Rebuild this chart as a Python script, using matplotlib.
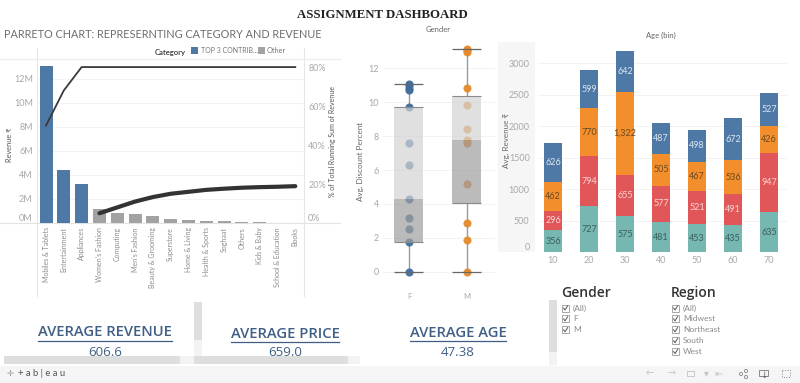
import matplotlib
matplotlib.use('Agg')
from matplotlib import pyplot as plt
from matplotlib.patches import Rectangle, Circle

W, H = 800, 383
plt.rcParams['font.family'] = ['Lato', 'DejaVu Sans']

# pareto data
categories = ['Mobiles & Tablets', 'Entertainment', 'Appliances', "Women's Fashion", 'Computing',
              "Men's Fashion", 'Beauty & Grooming', 'Superstore', 'Home & Living', 'Health & Sports',
              'Soghaat', 'Others', 'Kids & Baby', 'School & Education', 'Books']
revenue = [13.08, 4.4, 3.25, 1.2, 0.8, 0.75, 0.55, 0.37, 0.28, 0.2, 0.15, 0.1, 0.07, 0.01, 0.005]
top3_running = [50, 68, 80, 80, 80, 80, 80, 80, 80, 80, 80, 80, 80, 80, 80]
other_running = [5, 8, 11, 13.3, 15, 16, 17, 17.6, 18.1, 18.4, 18.6, 18.9]
rev_ticks = [0, 2, 4, 6, 8, 10, 12]
pct_ticks = [0, 20, 40, 60, 80]

# box plot data
genders = ['F', 'M']
discount_f = [0, 1.75, 2.5, 3.2, 4.3, 6.3, 7.6, 9.7, 10.7, 10.85, 11.0, 11.1]
discount_m = [0, 1.85, 2.85, 5.2, 7.6, 7.8, 8.4, 9.85, 10.85, 12.95, 13.1, 13.15]
box_q1 = [1.75, 4.05]
box_med = [4.3, 7.8]
box_q3 = [9.7, 10.35]
box_low = [0, 0]
box_high = [11.1, 13.15]
disc_ticks = [0, 2, 4, 6, 8, 10, 12]

# stacked bar data
age_bins = ['10', '20', '30', '40', '50', '60', '70']
age_teal = [356, 727, 575, 481, 453, 435, 635]
age_red = [296, 794, 655, 577, 521, 491, 947]
age_orange = [462, 770, 1322, 505, 467, 536, 426]
age_blue = [626, 599, 642, 487, 498, 672, 527]
age_ticks = [0, 500, 1000, 1500, 2000, 2500, 3000]

BLUE = '#4e79a7'
ORANGE = '#f28e2b'
RED = '#e15759'
TEAL = '#76b7b2'
TICK = '#a8a8a8'
GRID = '#f1f1f1'
KPI = '#3f5f85'

fig = plt.figure(figsize=(W / 100, H / 100), dpi=100, facecolor='white')


def px_axes(x0, y0, x1, y1, **kw):
    # pixel box, y measured from the top
    return fig.add_axes([x0 / W, 1 - y1 / H, (x1 - x0) / W, (y1 - y0) / H], **kw)


def clean(ax):
    ax.patch.set_alpha(0)
    for s in ax.spines.values():
        s.set_visible(False)
    ax.tick_params(length=0, labelcolor=TICK, labelsize=6.5, pad=3)


# background layer, pixel coordinates
bg = px_axes(0, 0, W, H, zorder=0)
bg.set_xlim(0, W)
bg.set_ylim(H, 0)
bg.axis('off')
bg.add_patch(Rectangle((498, 42), 37, 210, color='#f6f6f6', lw=0))
bg.plot([37, 37], [48, 296], color='#e6e6e6', lw=0.8)
bg.plot([304, 304], [48, 296], color='#e6e6e6', lw=0.8)
bg.plot([0, 340], [58.5, 58.5], color='#ececec', lw=0.8)
bg.plot([0, 340], [223, 223], color='#e2e2e2', lw=0.8)

# pareto
ax1 = px_axes(37, 58.5, 304, 223, zorder=2)
clean(ax1)
xs = list(range(len(categories)))
bar_cols = [BLUE] * 3 + ['#a2a2a2'] * (len(categories) - 3)
ax1.bar(xs, revenue, width=0.73, color=bar_cols, zorder=2)
ax1.set_xlim(-0.506, 14.49)
ax1.set_ylim(0, 13.7)
ax1.set_yticks(rev_ticks)
ax1.set_yticklabels([f'{v}M' for v in rev_ticks])
ax1.get_yticklabels()[0].set_va('bottom')
ax1.set_xticks(xs)
ax1.set_xticklabels(categories, rotation=90, fontsize=5.0, color='#8c8c8c')
ax1.grid(axis='y', color=GRID, lw=0.6, zorder=0)
ax1.set_axisbelow(True)

ax1b = ax1.twinx()
clean(ax1b)
ax1b.set_ylim(0, 84.4)
ax1b.set_yticks(pct_ticks)
ax1b.set_yticklabels([f'{v}%' for v in pct_ticks])
ax1b.get_yticklabels()[0].set_va('bottom')
ax1b.plot(xs, top3_running, color='#3a3a3a', lw=1.3, zorder=3)
ax1b.plot(xs[3:], other_running, color='#333333', lw=3.0, solid_capstyle='round', zorder=3)

# box plot
ax2 = px_axes(383, 42, 495, 276, zorder=2)
clean(ax2)
ax2.set_xlim(-0.448, 1.483)
ax2.set_ylim(-0.25, 13.55)
ax2.set_yticks(disc_ticks)
ax2.set_xticks([0, 1])
ax2.set_xticklabels(genders, fontsize=5.5)
ax2.tick_params(axis='x', pad=12)
ax2.grid(axis='y', color=GRID, lw=0.6, zorder=0)
ax2.set_axisbelow(True)
for i, (vals, col) in enumerate(zip([discount_f, discount_m], ['#3f6d9c', '#e58a2c'])):
    ax2.vlines(i, box_low[i], box_q1[i], color='#9a9a9a', lw=1.0, zorder=1)
    ax2.vlines(i, box_q3[i], box_high[i], color='#9a9a9a', lw=1.0, zorder=1)
    ax2.scatter([i] * len(vals), vals, s=34, color=col, alpha=0.95, lw=0, zorder=2)
    ax2.bar(i, box_med[i] - box_q1[i], bottom=box_q1[i], width=0.5, color='#9e9e9e', alpha=0.7, zorder=3)
    ax2.bar(i, box_q3[i] - box_med[i], bottom=box_med[i], width=0.5, color='#d3d3d3', alpha=0.7, zorder=3)
    ax2.hlines([box_low[i], box_high[i]], i - 0.25, i + 0.25, color='#666666', lw=0.9, zorder=4)
    ax2.hlines(box_q3[i], i - 0.25, i + 0.25, color='#8a8a8a', lw=0.8, zorder=4)
    ax2.hlines(box_q1[i], i - 0.25, i + 0.25, color='#8a8a8a', lw=0.8, zorder=4)

# stacked bars
ax3 = px_axes(538, 42, 787, 252.3, zorder=2)
clean(ax3)
ax3.set_xlim(-0.417, 6.5)
ax3.set_ylim(0, 3338)
ax3.set_yticks(age_ticks)
ax3.get_yticklabels()[0].set_va('bottom')
ax3.set_xticks(range(len(age_bins)))
ax3.set_xticklabels(age_bins)
ax3.tick_params(axis='y', pad=6)
ax3.grid(axis='y', color=GRID, lw=0.6, zorder=0)
ax3.set_axisbelow(True)
bottom = [0] * len(age_bins)
for vals, col, txt in [(age_teal, TEAL, '#3c5f5c'), (age_red, RED, '#f8d5d5'),
                       (age_orange, ORANGE, '#6b4a20'), (age_blue, BLUE, '#dce6f0')]:
    ax3.bar(range(len(age_bins)), vals, bottom=bottom, width=0.5, color=col, zorder=2)
    for i, v in enumerate(vals):
        ax3.text(i, bottom[i] + v / 2, f'{v:,}', ha='center', va='center', fontsize=6.5, color=txt, zorder=3)
    bottom = [b + v for b, v in zip(bottom, vals)]

# top layer, pixel coordinates
top = px_axes(0, 0, W, H, zorder=5)
top.set_xlim(0, W)
top.set_ylim(H, 0)
top.axis('off')
top.patch.set_alpha(0)

top.text(382, 15, 'ASSIGNMENT DASHBOARD', family='Liberation Serif', weight='bold', fontsize=9.2,
         ha='center', va='center', color='#222222')
top.text(4, 34.5, 'PARRETO CHART: REPRESERNTING CATEGORY AND REVENUE', fontsize=7.8, ha='left',
         va='center', color='#6e6e6e')

# legend
top.text(170, 52.5, 'Category', fontsize=5.5, weight='bold', ha='center', va='center', color='#444444')
top.add_patch(Rectangle((191, 47), 7, 7, color=BLUE, lw=0))
top.text(201, 50.5, 'TOP 3 CONTRIB...', fontsize=5.0, va='center', color='#777777')
top.add_patch(Rectangle((258, 47), 7, 7, color='#a2a2a2', lw=0))
top.text(267, 50.5, 'Other', fontsize=5.3, va='center', color='#777777')

# axis titles
top.text(9, 145, 'Revenue ₹', fontsize=5.3, rotation=90, ha='center', va='center', color='#555555')
top.text(333, 141, '% of Total Running Sum of Revenue', fontsize=5.0, rotation=90, ha='center', va='center',
         color='#555555')
top.text(360, 161, 'Avg. Discount Percent', fontsize=5.8, rotation=90, ha='center', va='center', color='#666666')
top.text(438, 30, 'Gender', fontsize=5.5, ha='center', va='center', color='#666666')
top.text(507, 141, 'Avg. Revenue ₹', fontsize=5.8, rotation=90, ha='center', va='center', color='#666666')
top.text(661, 35.5, 'Age (bin)', fontsize=5.5, ha='center', va='center', color='#666666')

# KPI titles with underline
rend = fig.canvas.get_renderer()
for label, value, cx, y_t, y_v in [('AVERAGE REVENUE', '606.6', 105, 332.5, 352.5),
                                   ('AVERAGE PRICE', '659.0', 285, 334, 352),
                                   ('AVERAGE AGE', '47.38', 458, 333, 352.5)]:
    t = top.text(cx, y_t, label, family='Open Sans', fontsize=10.6, weight='semibold', ha='center', va='center', color=KPI)
    bb = t.get_window_extent(rend)
    top.plot([bb.x0, bb.x1], [y_t + 8, y_t + 8], color=KPI, lw=0.9)
    top.text(cx, y_v, value, family='Open Sans', fontsize=9.6, ha='center', va='center', color=KPI)

# scroll bars
for x, y, w, h, col in [(4, 356, 176, 8, '#dedede'), (180, 356, 14, 8, '#f3f3f3'), (194, 356, 154, 8, '#dedede'),
                        (348, 356, 12, 8, '#f3f3f3'), (194, 302, 8, 38, '#dedede'), (194, 340, 8, 16, '#f3f3f3'),
                        (549, 300, 8, 52, '#dedede'), (549, 352, 8, 13, '#f3f3f3')]:
    top.add_patch(Rectangle((x, y), w, h, color=col, lw=0, zorder=3))

# filters
filter_gender = ['(All)', 'F', 'M']
filter_region = ['(All)', 'Midwest', 'Northeast', 'South', 'West']
for title, items, x, xt in [('Gender', filter_gender, 562, 561), ('Region', filter_region, 672, 671)]:
    top.text(xt, 293, title, family='Open Sans', fontsize=10, weight='semibold', ha='left', va='center', color='#333333')
    for i, item in enumerate(items):
        yc = 308 + i * 10.9
        top.add_patch(Rectangle((x, yc - 3.5), 7, 7, fc='white', ec='#999999', lw=0.6))
        top.plot([x + 1.6, x + 3, x + 5.6], [yc, yc + 2, yc - 2.2], color='#555555', lw=0.7)
        top.text(x + 11, yc, item, fontsize=6, va='center', color='#8a8a8a')

# tableau footer
top.add_patch(Rectangle((0, 366), W, 17, color='#f5f5f5', lw=0, zorder=4))
top.text(10, 373.5, '✛', fontsize=6, ha='center', va='center', color='#9a9a9a', family='DejaVu Sans', zorder=5)
top.text(18, 373.5, '+ a b | e a u', fontsize=6.8, ha='left', va='center', color='#555555', zorder=5)
for x, glyph in [(650, '←'), (672, '→'), (706, '▾'), (719, '⇤')]:
    top.text(x, 373.5, glyph, fontsize=7, ha='center', va='center', color='#c4c4c4', family='DejaVu Sans', zorder=5)
top.add_patch(Rectangle((687, 371), 7, 5, fc='none', ec='#c8c8c8', lw=0.7, zorder=5))
for cx, cy in [(741, 374), (746, 371), (746, 377)]:
    top.add_patch(Circle((cx, cy), 1.6, fc='#f5f5f5', ec='#888888', lw=0.6, zorder=6))
top.add_patch(Rectangle((759, 370), 9, 6, fc='none', ec='#888888', lw=0.7, zorder=5))
top.text(763.5, 375, '↓', fontsize=6.5, ha='center', va='center', color='#666666', family='DejaVu Sans', zorder=6)
top.add_patch(Rectangle((782, 370), 8, 7, fc='none', ec='#888888', lw=0.7, ls=':', zorder=5))

fig.savefig('out.png', dpi=100)
